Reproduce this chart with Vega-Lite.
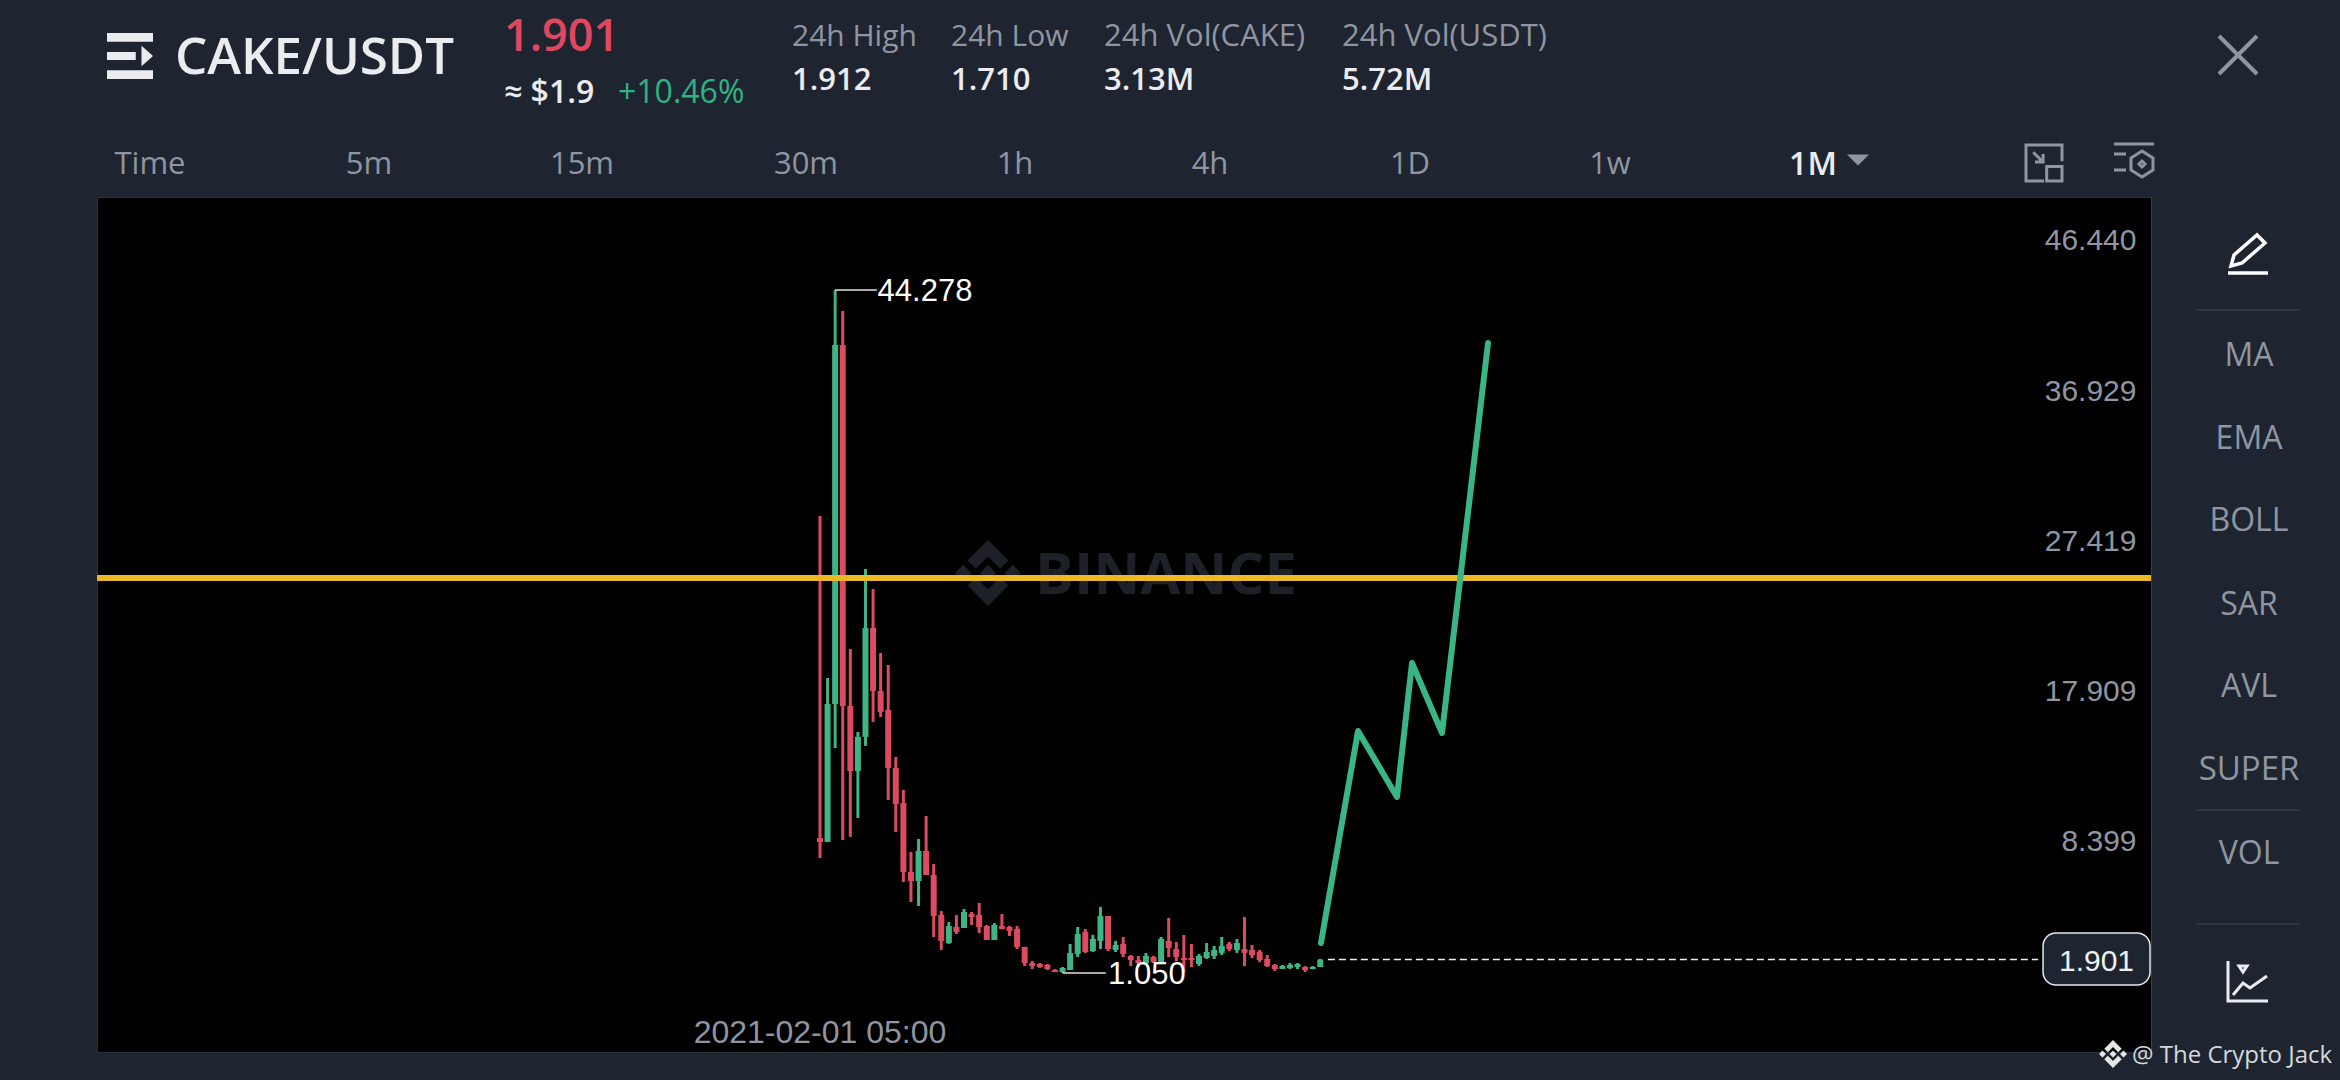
{
  "$schema": "https://vega.github.io/schema/vega-lite/v5.json",
  "width": 2054,
  "height": 855,
  "autosize": {"type": "none"},
  "padding": {"left": 97, "top": 197, "right": 189, "bottom": 28},
  "background": "#1f2530",
  "view": {"fill": "#000000", "stroke": "#2b3139"},
  "config": {"font": "Open Sans"},
  "datasets": {
    "candles": [
      {"t":0,"o":9.59,"h":29.97,"l":8.33,"c":9.34},
      {"t":1,"o":9.34,"h":19.72,"l":9.34,"c":18.08},
      {"t":2,"o":18.08,"h":44.278,"l":15.29,"c":40.8},
      {"t":3,"o":40.8,"h":42.95,"l":9.47,"c":17.95},
      {"t":4,"o":17.95,"h":21.56,"l":9.66,"c":13.83},
      {"t":5,"o":13.83,"h":16.3,"l":10.86,"c":15.99},
      {"t":6,"o":15.99,"h":26.62,"l":15.42,"c":22.89},
      {"t":7,"o":22.89,"h":25.35,"l":16.94,"c":18.9},
      {"t":8,"o":18.9,"h":21.3,"l":17.25,"c":17.57},
      {"t":9,"o":17.7,"h":20.54,"l":12.0,"c":14.02},
      {"t":10,"o":14.02,"h":14.72,"l":9.97,"c":11.75},
      {"t":11,"o":11.81,"h":12.63,"l":6.81,"c":7.44},
      {"t":12,"o":7.44,"h":8.71,"l":5.54,"c":6.87},
      {"t":13,"o":6.87,"h":9.53,"l":5.29,"c":8.77},
      {"t":14,"o":8.77,"h":10.99,"l":7.25,"c":7.25},
      {"t":15,"o":7.25,"h":7.95,"l":3.33,"c":4.66},
      {"t":16,"o":4.72,"h":4.97,"l":2.51,"c":3.08},
      {"t":17,"o":2.95,"h":4.28,"l":2.89,"c":4.02},
      {"t":18,"o":3.96,"h":4.72,"l":3.52,"c":3.64},
      {"t":19,"o":3.9,"h":5.1,"l":3.9,"c":4.91},
      {"t":20,"o":4.78,"h":4.91,"l":4.09,"c":4.59},
      {"t":21,"o":4.72,"h":5.48,"l":3.58,"c":3.96},
      {"t":22,"o":4.02,"h":4.09,"l":3.14,"c":3.14},
      {"t":23,"o":3.14,"h":4.21,"l":3.14,"c":4.09},
      {"t":24,"o":4.02,"h":4.78,"l":3.83,"c":3.83},
      {"t":25,"o":3.96,"h":4.02,"l":3.39,"c":3.71},
      {"t":26,"o":3.83,"h":4.02,"l":2.57,"c":2.7},
      {"t":27,"o":2.7,"h":2.7,"l":1.49,"c":1.68},
      {"t":28,"o":1.68,"h":1.81,"l":1.3,"c":1.49},
      {"t":29,"o":1.62,"h":1.68,"l":1.37,"c":1.43},
      {"t":30,"o":1.56,"h":1.62,"l":1.24,"c":1.3},
      {"t":31,"o":1.24,"h":1.3,"l":1.11,"c":1.11},
      {"t":32,"o":1.11,"h":1.43,"l":1.05,"c":1.37},
      {"t":33,"o":1.24,"h":2.89,"l":1.24,"c":2.32},
      {"t":34,"o":2.25,"h":3.96,"l":2.06,"c":3.52},
      {"t":35,"o":3.64,"h":3.83,"l":2.32,"c":2.38},
      {"t":36,"o":2.44,"h":3.46,"l":2.38,"c":3.2},
      {"t":37,"o":3.08,"h":5.23,"l":2.57,"c":4.66},
      {"t":38,"o":4.66,"h":4.66,"l":2.44,"c":2.57},
      {"t":39,"o":2.51,"h":3.08,"l":2.38,"c":2.82},
      {"t":40,"o":2.89,"h":3.33,"l":2.06,"c":2.25},
      {"t":41,"o":2.13,"h":2.19,"l":1.49,"c":1.87},
      {"t":42,"o":1.87,"h":2.13,"l":1.43,"c":1.68},
      {"t":43,"o":1.68,"h":2.32,"l":1.62,"c":2.13},
      {"t":44,"o":2.06,"h":2.13,"l":1.68,"c":1.75},
      {"t":45,"o":1.68,"h":3.33,"l":1.68,"c":3.2},
      {"t":46,"o":3.08,"h":4.53,"l":2.06,"c":2.63},
      {"t":47,"o":2.57,"h":3.01,"l":1.81,"c":2.06},
      {"t":48,"o":2.0,"h":3.46,"l":1.11,"c":1.87},
      {"t":49,"o":2.0,"h":2.89,"l":1.43,"c":1.87},
      {"t":50,"o":1.62,"h":2.25,"l":1.49,"c":2.13},
      {"t":51,"o":2.0,"h":2.95,"l":1.94,"c":2.38},
      {"t":52,"o":2.13,"h":2.76,"l":1.94,"c":2.51},
      {"t":53,"o":2.32,"h":3.33,"l":2.19,"c":2.76},
      {"t":54,"o":2.89,"h":3.01,"l":2.44,"c":2.57},
      {"t":55,"o":2.51,"h":3.2,"l":2.32,"c":2.95},
      {"t":56,"o":2.57,"h":4.59,"l":1.49,"c":2.32},
      {"t":57,"o":2.51,"h":2.82,"l":2.0,"c":2.19},
      {"t":58,"o":2.38,"h":2.51,"l":1.75,"c":1.87},
      {"t":59,"o":1.94,"h":2.19,"l":1.43,"c":1.49},
      {"t":60,"o":1.56,"h":1.62,"l":1.18,"c":1.3},
      {"t":61,"o":1.3,"h":1.56,"l":1.3,"c":1.49},
      {"t":62,"o":1.37,"h":1.68,"l":1.3,"c":1.56},
      {"t":63,"o":1.43,"h":1.68,"l":1.3,"c":1.62},
      {"t":64,"o":1.43,"h":1.49,"l":1.11,"c":1.24},
      {"t":65,"o":1.3,"h":1.49,"l":1.3,"c":1.43},
      {"t":66,"o":1.43,"h":1.94,"l":1.43,"c":1.901}
    ],
    "sketch": [
      {"t":66.09,"p":2.95},
      {"t":70.98,"p":16.37},
      {"t":76.12,"p":12.19},
      {"t":78.1,"p":20.67},
      {"t":82.06,"p":16.24},
      {"t":88.13,"p":40.92}
    ],
    "leaders": [
      {"t":2,"t2":7.5,"p":44.278},
      {"t":32,"t2":37.7,"p":1.05}
    ],
    "extremes": [
      {"t":7.6,"p":44.278,"label":"44.278"},
      {"t":38,"p":1.05,"label":"1.050"}
    ]
  },
  "layer": [
    {
      "data": {"values": [{}]},
      "mark": {"type": "point", "x": 891, "y": 376, "size": 4356, "filled": true, "opacity": 1, "fill": "#1d2026",
        "shape": "M0,-0.25L0.25,0L0,0.25L-0.25,0ZM-1,0L-0.75,-0.25L-0.5,0L-0.75,0.25ZM0.5,0L0.75,-0.25L1,0L0.75,0.25ZM0,-1L0.62,-0.38L0.37,-0.13L0,-0.5L-0.37,-0.13L-0.62,-0.38ZM0,1L0.62,0.38L0.37,0.13L0,0.5L-0.37,0.13L-0.62,0.38Z"}
    },
    {
      "data": {"values": [{}]},
      "mark": {"type": "text", "x": 938, "y": 380, "align": "left", "baseline": "middle", "text": "BINANCE", "fontSize": 58, "fontWeight": 700, "fill": "#1d2026"}
    },
    {
      "data": {"name": "candles"},
      "mark": {"type": "rule", "strokeWidth": 3},
      "encoding": {
        "x": {"field": "t", "type": "quantitative", "scale": {"domain": [-95.38, 175.59], "padding": 0}, "axis": null},
        "y": {"field": "l", "type": "quantitative", "scale": {"domain": [-3.95, 50.16]},
          "axis": {"orient": "right", "title": null, "values": [8.399, 17.909, 27.419, 36.929, 46.44], "format": ".3f", "ticks": false, "grid": false, "domainColor": "#3a404a", "labelAlign": "right", "labelBaseline": "middle", "labelPadding": -15, "labelOffset": -15, "labelFont": "Liberation Sans", "labelFontSize": 30, "labelColor": "#8f96a1"}},
        "y2": {"field": "h"},
        "color": {"condition": {"test": "datum.c >= datum.o", "value": "#3fb585"}, "value": "#dc4b60"}
      }
    },
    {
      "data": {"name": "candles"},
      "mark": {"type": "bar", "size": 6, "orient": "vertical"},
      "encoding": {
        "x": {"field": "t", "type": "quantitative", "scale": {"domain": [-95.38, 175.59], "padding": 0}, "axis": null},
        "y": {"field": "o", "type": "quantitative", "scale": {"domain": [-3.95, 50.16]}, "title": null},
        "y2": {"field": "c"},
        "color": {"condition": {"test": "datum.c >= datum.o", "value": "#3fb585"}, "value": "#dc4b60"}
      }
    },
    {
      "data": {"values": [{"p": 26.05}]},
      "mark": {"type": "rule", "color": "#ecb823", "strokeWidth": 6},
      "encoding": {"y": {"field": "p", "type": "quantitative", "scale": {"domain": [-3.95, 50.16]}, "title": null}}
    },
    {
      "data": {"name": "sketch"},
      "mark": {"type": "line", "color": "#3ab585", "strokeWidth": 6, "strokeCap": "round", "strokeJoin": "round"},
      "encoding": {
        "x": {"field": "t", "type": "quantitative", "scale": {"domain": [-95.38, 175.59], "padding": 0}, "axis": null},
        "y": {"field": "p", "type": "quantitative", "scale": {"domain": [-3.95, 50.16]}, "title": null}
      }
    },
    {
      "data": {"name": "leaders"},
      "mark": {"type": "rule", "color": "#dfe2e6", "strokeWidth": 1.5},
      "encoding": {
        "x": {"field": "t", "type": "quantitative", "scale": {"domain": [-95.38, 175.59], "padding": 0}, "axis": null},
        "x2": {"field": "t2"},
        "y": {"field": "p", "type": "quantitative", "scale": {"domain": [-3.95, 50.16]}, "title": null}
      }
    },
    {
      "data": {"name": "extremes"},
      "mark": {"type": "text", "align": "left", "baseline": "middle", "dy": 2, "font": "Liberation Sans", "fontSize": 31, "fill": "#ffffff"},
      "encoding": {
        "x": {"field": "t", "type": "quantitative", "scale": {"domain": [-95.38, 175.59], "padding": 0}, "axis": null},
        "y": {"field": "p", "type": "quantitative", "scale": {"domain": [-3.95, 50.16]}, "title": null},
        "text": {"field": "label"}
      }
    },
    {
      "data": {"values": [{"t": 67, "t2": 160.7, "p": 1.901}]},
      "mark": {"type": "rule", "color": "#f0f0f0", "strokeWidth": 1.5, "strokeDash": [7, 4]},
      "encoding": {
        "x": {"field": "t", "type": "quantitative", "scale": {"domain": [-95.38, 175.59], "padding": 0}, "axis": null},
        "x2": {"field": "t2"},
        "y": {"field": "p", "type": "quantitative", "scale": {"domain": [-3.95, 50.16]}, "title": null}
      }
    },
    {
      "data": {"values": [{"t": 161.35, "t2": 175.46, "p": 3.58, "p2": 0.29}]},
      "mark": {"type": "rect", "fill": "#1f2530", "stroke": "#e6e8ea", "strokeWidth": 1.5, "cornerRadius": 13},
      "encoding": {
        "x": {"field": "t", "type": "quantitative", "scale": {"domain": [-95.38, 175.59], "padding": 0}, "axis": null},
        "x2": {"field": "t2"},
        "y": {"field": "p", "type": "quantitative", "scale": {"domain": [-3.95, 50.16]}, "title": null},
        "y2": {"field": "p2"}
      }
    },
    {
      "data": {"values": [{"t": 168.4, "p": 1.901, "label": "1.901"}]},
      "mark": {"type": "text", "align": "center", "baseline": "middle", "dy": 2, "font": "Liberation Sans", "fontSize": 30, "fill": "#eef0f2"},
      "encoding": {
        "x": {"field": "t", "type": "quantitative", "scale": {"domain": [-95.38, 175.59], "padding": 0}, "axis": null},
        "y": {"field": "p", "type": "quantitative", "scale": {"domain": [-3.95, 50.16]}, "title": null},
        "text": {"field": "label"}
      }
    },
    {
      "data": {"values": [{"t": 0, "p": -2.62, "label": "2021-02-01 05:00"}]},
      "mark": {"type": "text", "align": "center", "baseline": "middle", "dy": 2, "font": "Liberation Sans", "fontSize": 32, "fill": "#8f96a1"},
      "encoding": {
        "x": {"field": "t", "type": "quantitative", "scale": {"domain": [-95.38, 175.59], "padding": 0}, "axis": null},
        "y": {"field": "p", "type": "quantitative", "scale": {"domain": [-3.95, 50.16]}, "title": null},
        "text": {"field": "label"}
      }
    },
    {"data": {"values": [{}]}, "mark": {"type": "point", "x": 33, "y": -141, "size": 2116, "filled": true, "opacity": 1, "fill": "#eaecef", "shape": "M-1,-1L1,-1L1,-0.62L-1,-0.62ZM-1,-0.17L0.25,-0.17L0.25,0.17L-1,0.17ZM0.5,-0.45L1,0L0.5,0.45ZM-1,0.62L1,0.62L1,1L-1,1Z"}},
    {"data": {"values": [{}]}, "mark": {"type": "text", "x": 78, "y": -138, "align": "left", "baseline": "middle", "text": "CAKE/USDT", "fontSize": 51, "fontWeight": 600, "fill": "#eaecef"}},
    {"data": {"values": [{}]}, "mark": {"type": "text", "x": 407, "y": -160, "align": "left", "baseline": "middle", "text": "1.901", "fontSize": 45, "fontWeight": 600, "fill": "#e0485f"}},
    {"data": {"values": [{}]}, "mark": {"type": "text", "x": 407, "y": -104, "align": "left", "baseline": "middle", "text": "≈ $1.9", "fontSize": 32, "fontWeight": 600, "fill": "#eaecef"}},
    {"data": {"values": [{}]}, "mark": {"type": "text", "x": 521, "y": -104, "align": "left", "baseline": "middle", "text": "+10.46%", "fontSize": 32, "fontWeight": 500, "fill": "#2fb383"}},
    {"data": {"values": [{}]}, "mark": {"type": "text", "x": 695, "y": -160, "align": "left", "baseline": "middle", "text": "24h High", "fontSize": 30, "fill": "#8f96a1"}},
    {"data": {"values": [{}]}, "mark": {"type": "text", "x": 695, "y": -116, "align": "left", "baseline": "middle", "text": "1.912", "fontSize": 31, "fontWeight": 600, "fill": "#eaecef"}},
    {"data": {"values": [{}]}, "mark": {"type": "text", "x": 854, "y": -160, "align": "left", "baseline": "middle", "text": "24h Low", "fontSize": 30, "fill": "#8f96a1"}},
    {"data": {"values": [{}]}, "mark": {"type": "text", "x": 854, "y": -116, "align": "left", "baseline": "middle", "text": "1.710", "fontSize": 31, "fontWeight": 600, "fill": "#eaecef"}},
    {"data": {"values": [{}]}, "mark": {"type": "text", "x": 1007, "y": -160, "align": "left", "baseline": "middle", "text": "24h Vol(CAKE)", "fontSize": 31, "fill": "#8f96a1"}},
    {"data": {"values": [{}]}, "mark": {"type": "text", "x": 1007, "y": -116, "align": "left", "baseline": "middle", "text": "3.13M", "fontSize": 31, "fontWeight": 600, "fill": "#eaecef"}},
    {"data": {"values": [{}]}, "mark": {"type": "text", "x": 1245, "y": -160, "align": "left", "baseline": "middle", "text": "24h Vol(USDT)", "fontSize": 31, "fill": "#8f96a1"}},
    {"data": {"values": [{}]}, "mark": {"type": "text", "x": 1245, "y": -116, "align": "left", "baseline": "middle", "text": "5.72M", "fontSize": 31, "fontWeight": 600, "fill": "#eaecef"}},
    {"data": {"values": [{}]}, "mark": {"type": "text", "x": 53, "y": -32, "align": "center", "baseline": "middle", "text": "Time", "fontSize": 31, "fill": "#8f96a1"}},
    {"data": {"values": [{}]}, "mark": {"type": "text", "x": 272, "y": -32, "align": "center", "baseline": "middle", "text": "5m", "fontSize": 31, "fill": "#8f96a1"}},
    {"data": {"values": [{}]}, "mark": {"type": "text", "x": 485, "y": -32, "align": "center", "baseline": "middle", "text": "15m", "fontSize": 31, "fill": "#8f96a1"}},
    {"data": {"values": [{}]}, "mark": {"type": "text", "x": 709, "y": -32, "align": "center", "baseline": "middle", "text": "30m", "fontSize": 31, "fill": "#8f96a1"}},
    {"data": {"values": [{}]}, "mark": {"type": "text", "x": 918, "y": -32, "align": "center", "baseline": "middle", "text": "1h", "fontSize": 31, "fill": "#8f96a1"}},
    {"data": {"values": [{}]}, "mark": {"type": "text", "x": 1113, "y": -32, "align": "center", "baseline": "middle", "text": "4h", "fontSize": 31, "fill": "#8f96a1"}},
    {"data": {"values": [{}]}, "mark": {"type": "text", "x": 1313, "y": -32, "align": "center", "baseline": "middle", "text": "1D", "fontSize": 31, "fill": "#8f96a1"}},
    {"data": {"values": [{}]}, "mark": {"type": "text", "x": 1513, "y": -32, "align": "center", "baseline": "middle", "text": "1w", "fontSize": 31, "fill": "#8f96a1"}},
    {"data": {"values": [{}]}, "mark": {"type": "text", "x": 1716, "y": -32, "align": "center", "baseline": "middle", "text": "1M", "fontSize": 32, "fontWeight": 600, "fill": "#eaecef"}},
    {"data": {"values": [{}]}, "mark": {"type": "point", "x": 1761, "y": -37, "size": 484, "filled": true, "opacity": 1, "fill": "#8f96a1", "shape": "M-1,-0.5L1,-0.5L0,0.5Z"}},
    {"data": {"values": [{}]}, "mark": {"type": "point", "x": 1947, "y": -34, "size": 1296, "filled": false, "opacity": 1, "stroke": "#8f96a1", "strokeWidth": 3, "shape": "M1,-0.1L1,-1L-1,-1L-1,1L0,1M0.15,0.2L1,0.2L1,1L0.15,1ZM-0.6,-0.6L-0.05,-0.05M-0.05,-0.5L-0.05,-0.05L-0.5,-0.05"}},
    {"data": {"values": [{}]}, "mark": {"type": "point", "x": 2037, "y": -35, "size": 1600, "filled": false, "opacity": 1, "stroke": "#8f96a1", "strokeWidth": 3, "shape": "M-1,-0.9L1,-0.9M-1,-0.4L-0.4,-0.4M-1,0.4L-0.4,0.4M0.4,-0.55L0.95,-0.2L0.95,0.4L0.4,0.75L-0.15,0.4L-0.15,-0.2ZM0.4,-0.05L0.55,0.1L0.4,0.25L0.25,0.1Z"}},
    {"data": {"values": [{}]}, "mark": {"type": "point", "x": 2141, "y": -142, "size": 1444, "filled": false, "opacity": 1, "stroke": "#8f96a1", "strokeWidth": 4, "shape": "M-1,-1L1,1M-1,1L1,-1"}},
    {"data": {"values": [{}]}, "mark": {"type": "point", "x": 2151, "y": 56, "size": 1600, "filled": false, "opacity": 1, "stroke": "#ffffff", "strokeWidth": 3.5, "shape": "M0.45,-0.9L0.85,-0.5L-0.3,0.5L-0.85,0.65L-0.7,0.1ZM-1,1L1,1"}},
    {"data": {"values": [{}]}, "mark": {"type": "point", "x": 2151, "y": 113, "size": 10816, "filled": false, "opacity": 1, "stroke": "#2f353f", "strokeWidth": 2, "shape": "M-1,0L1,0"}},
    {"data": {"values": [{}]}, "mark": {"type": "point", "x": 2151, "y": 613, "size": 10816, "filled": false, "opacity": 1, "stroke": "#2f353f", "strokeWidth": 2, "shape": "M-1,0L1,0"}},
    {"data": {"values": [{}]}, "mark": {"type": "point", "x": 2151, "y": 727, "size": 10816, "filled": false, "opacity": 1, "stroke": "#2f353f", "strokeWidth": 2, "shape": "M-1,0L1,0"}},
    {"data": {"values": [{}]}, "mark": {"type": "text", "x": 2152, "y": 159, "align": "center", "baseline": "middle", "text": "MA", "fontSize": 32, "fill": "#8f96a1"}},
    {"data": {"values": [{}]}, "mark": {"type": "text", "x": 2152, "y": 242, "align": "center", "baseline": "middle", "text": "EMA", "fontSize": 32, "fill": "#8f96a1"}},
    {"data": {"values": [{}]}, "mark": {"type": "text", "x": 2152, "y": 324, "align": "center", "baseline": "middle", "text": "BOLL", "fontSize": 32, "fill": "#8f96a1"}},
    {"data": {"values": [{}]}, "mark": {"type": "text", "x": 2152, "y": 408, "align": "center", "baseline": "middle", "text": "SAR", "fontSize": 32, "fill": "#8f96a1"}},
    {"data": {"values": [{}]}, "mark": {"type": "text", "x": 2152, "y": 490, "align": "center", "baseline": "middle", "text": "AVL", "fontSize": 32, "fill": "#8f96a1"}},
    {"data": {"values": [{}]}, "mark": {"type": "text", "x": 2152, "y": 573, "align": "center", "baseline": "middle", "text": "SUPER", "fontSize": 33, "fill": "#8f96a1"}},
    {"data": {"values": [{}]}, "mark": {"type": "text", "x": 2152, "y": 657, "align": "center", "baseline": "middle", "text": "VOL", "fontSize": 32, "fill": "#8f96a1"}},
    {"data": {"values": [{}]}, "mark": {"type": "point", "x": 2151, "y": 784, "size": 1600, "filled": false, "opacity": 1, "stroke": "#eaecef", "strokeWidth": 3, "shape": "M-1,-1L-1,1L1,1M-0.75,0.7L-0.25,0.1L0.1,0.35L0.95,-0.25M-0.45,-0.75L-0.05,-0.75L-0.25,-0.45Z"}},
    {"data": {"values": [{}]}, "mark": {"type": "point", "x": 2016, "y": 857, "size": 784, "filled": true, "opacity": 1, "fill": "#e6e6e6", "shape": "M0,-0.25L0.25,0L0,0.25L-0.25,0ZM-1,0L-0.75,-0.25L-0.5,0L-0.75,0.25ZM0.5,0L0.75,-0.25L1,0L0.75,0.25ZM0,-1L0.62,-0.38L0.37,-0.13L0,-0.5L-0.37,-0.13L-0.62,-0.38ZM0,1L0.62,0.38L0.37,0.13L0,0.5L-0.37,0.13L-0.62,0.38Z"}},
    {"data": {"values": [{}]}, "mark": {"type": "text", "x": 2035, "y": 859, "align": "left", "baseline": "middle", "text": "@ The Crypto Jack", "fontSize": 24, "fill": "#d5d8dc"}}
  ]
}
